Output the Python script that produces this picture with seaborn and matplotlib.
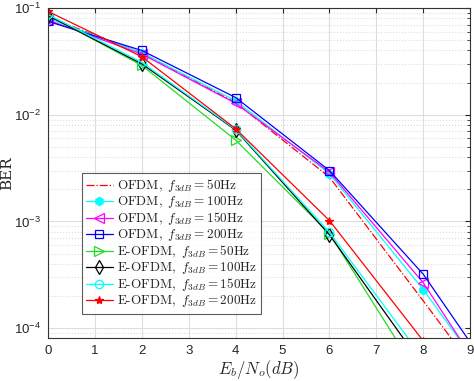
#!/usr/bin/env python3

import matplotlib
matplotlib.use("Agg")
import matplotlib.pyplot as plt
import numpy as np
import pandas as pd
import seaborn as sns

# Eb/No points (last one lies outside the visible range, lines leave through the bottom)
snr = [0, 2, 4, 6, 8, 10]

ofdm_50 = [0.082, 0.038, 0.0130, 0.0026, 1.8e-4, 1.2e-5]
ofdm_100 = [0.080, 0.038, 0.0135, 0.0028, 2.3e-4, 1.4e-5]
ofdm_150 = [0.077, 0.037, 0.0128, 0.0029, 2.66e-4, 1.2e-5]
ofdm_200 = [0.075, 0.040, 0.0145, 0.0030, 3.2e-4, 1.7e-5]
eofdm_50 = [0.086, 0.029, 0.0058, 7.7e-4, 3.1e-5, 1.3e-6]
eofdm_100 = [0.085, 0.030, 0.0072, 7.5e-4, 4.4e-5, 2.5e-6]
eofdm_150 = [0.087, 0.031, 0.0073, 7.9e-4, 5.2e-5, 3.4e-6]
eofdm_200 = [0.093, 0.035, 0.0074, 1.02e-3, 7.6e-5, 5.7e-6]

labels = [
    r"$\mathrm{OFDM},\ f_{3dB}=50\mathrm{Hz}$",
    r"$\mathrm{OFDM},\ f_{3dB}=100\mathrm{Hz}$",
    r"$\mathrm{OFDM},\ f_{3dB}=150\mathrm{Hz}$",
    r"$\mathrm{OFDM},\ f_{3dB}=200\mathrm{Hz}$",
    r"$\mathrm{E\text{-}OFDM},\ f_{3dB}=50\mathrm{Hz}$",
    r"$\mathrm{E\text{-}OFDM},\ f_{3dB}=100\mathrm{Hz}$",
    r"$\mathrm{E\text{-}OFDM},\ f_{3dB}=150\mathrm{Hz}$",
    r"$\mathrm{E\text{-}OFDM},\ f_{3dB}=200\mathrm{Hz}$",
]
series = [ofdm_50, ofdm_100, ofdm_150, ofdm_200, eofdm_50, eofdm_100, eofdm_150, eofdm_200]

styles = [
    dict(color="red", linestyle="-.", marker=None),
    dict(color="cyan", linestyle="-", marker="h", markerfacecolor="cyan", markeredgecolor="cyan", markersize=6),
    dict(color="magenta", linestyle="-", marker="<", markerfacecolor="none", markeredgecolor="magenta", markersize=7),
    dict(color="blue", linestyle="-", marker="s", markerfacecolor="none", markeredgecolor="blue", markersize=6),
    dict(color="#22dd22", linestyle="-", marker=">", markerfacecolor="none", markeredgecolor="#22dd22", markersize=7),
    dict(color="black", linestyle="-", marker="d", markerfacecolor="none", markeredgecolor="black", markersize=7),
    dict(color="cyan", linestyle="-", marker="o", markerfacecolor="none", markeredgecolor="cyan", markersize=6),
    dict(color="red", linestyle="-", marker="*", markerfacecolor="red", markeredgecolor="red", markersize=6),
]

sns.set_style("white")
plt.rcParams["mathtext.fontset"] = "cm"

fig = plt.figure(figsize=(4.74, 3.81), dpi=100)
ax = fig.add_axes([0.101, 0.113, 0.891, 0.866])

for lab, vals, st in zip(labels, series, styles):
    df = pd.DataFrame({"snr": snr, "ber": vals})
    sns.lineplot(data=df, x="snr", y="ber", ax=ax, label=lab, linewidth=0.9,
                 markeredgewidth=0.9, **st)

ax.set_yscale("log")
ax.set_xlim(0, 9)
ax.set_ylim(8.1e-5, 1e-1)
ax.set_xticks(range(0, 10))
ax.grid(True, which="major", color="#dddddd", linewidth=0.8)
ax.grid(True, which="minor", color="#dddddd", linestyle=":", linewidth=0.8)
ax.tick_params(which="both", direction="in", top=True, right=True, labelsize=9.5, pad=5)
for t in ax.get_xticklabels() + ax.get_yticklabels():
    t.set_family("Liberation Sans")
for s in ax.spines.values():
    s.set_color("#333333")
    s.set_linewidth(0.8)

ax.set_xlabel(r"$E_b/N_o(dB)$", fontsize=12, labelpad=1)
ax.set_ylabel("BER", fontsize=11, family="DejaVu Serif", labelpad=0)

leg = ax.legend(loc="lower left", bbox_to_anchor=(0.08, 0.073), fontsize=9.5,
                frameon=True, fancybox=False, edgecolor="#333333",
                handlelength=2.0, handletextpad=0.3, labelspacing=0.0,
                borderpad=0.35, borderaxespad=0)
leg.get_frame().set_linewidth(0.8)

plt.savefig("out.png", dpi=100)
